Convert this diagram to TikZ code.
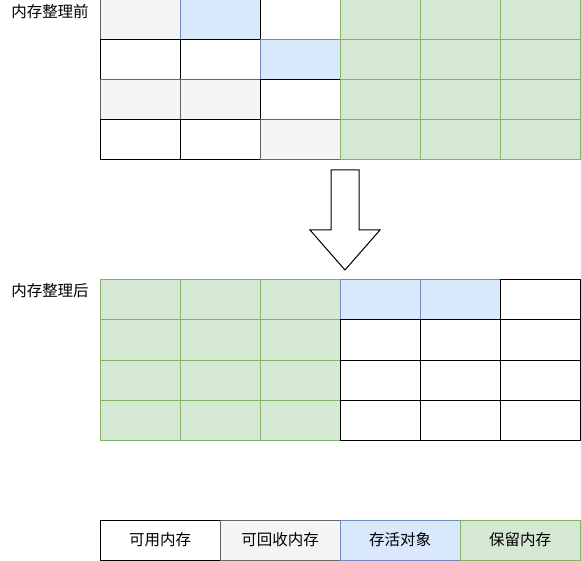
\documentclass[tikz,border=0pt]{standalone}
\usepackage{fontspec}
\setmainfont{Noto Sans CJK SC}
\definecolor{Fw}{HTML}{FFFFFF}\definecolor{Dw}{HTML}{000000}
\definecolor{Fg}{HTML}{F5F5F5}\definecolor{Dg}{HTML}{666666}
\definecolor{Fb}{HTML}{DAE8FC}\definecolor{Db}{HTML}{6C8EBF}
\definecolor{FG}{HTML}{D5E8D4}\definecolor{DG}{HTML}{82B366}
\begin{document}
\begin{tikzpicture}[x=1pt,y=-1pt,
  cell/.style={rectangle,minimum width=80pt,minimum height=40pt,inner sep=0pt,line width=1pt},
  legbox/.style={rectangle,minimum width=120pt,minimum height=40pt,inner sep=0pt,line width=1pt,font=\fontsize{15.5pt}{18pt}\selectfont},
  lbl/.style={font=\fontsize{15.5pt}{18pt}\selectfont,inner sep=0pt},
  bigarrow/.style={draw=black,fill=white,line width=1pt,line join=miter}]
\useasboundingbox (0,0) rectangle (581,561);
% top grid
\foreach \c [count=\i from 0] in {g,b,w,G,G,G, w,w,b,G,G,G, g,g,w,G,G,G, w,w,g,G,G,G}{
  \pgfmathtruncatemacro\r{int(\i/6)}
  \pgfmathtruncatemacro\k{mod(\i,6)}
  \node[cell,fill=F\c,draw=D\c] (t\i) at (140+80*\k,20+40*\r) {};
}
% bottom grid
\foreach \c [count=\i from 0] in {G,G,G,b,b,w, G,G,G,w,w,w, G,G,G,w,w,w, G,G,G,w,w,w}{
  \pgfmathtruncatemacro\r{int(\i/6)}
  \pgfmathtruncatemacro\k{mod(\i,6)}
  \node[cell,fill=F\c,draw=D\c] (b\i) at (140+80*\k,300+40*\r) {};
}
\node[lbl] (before) at (50,12) {内存整理前};
\node[lbl] (after) at (50,291) {内存整理后};
% arrow
\draw[bigarrow] (331,170) -- (359,170) -- (359,230) -- (380,230) -- (345,270) -- (310,230) -- (331,230) -- cycle;
% legend
\node[legbox,fill=Fw,draw=Dw] (l1) at (160,540) {可用内存};
\node[legbox,fill=Fg,draw=Dg] (l2) at (280,540) {可回收内存};
\node[legbox,fill=Fb,draw=Db] (l3) at (400,540) {存活对象};
\node[legbox,fill=FG,draw=DG] (l4) at (520,540) {保留内存};
\end{tikzpicture}
\end{document}
